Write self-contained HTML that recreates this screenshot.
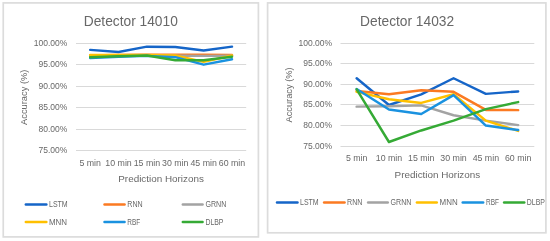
<!DOCTYPE html>
<html><head><meta charset="utf-8"><title>Detector accuracy</title>
<style>html,body{margin:0;padding:0;background:#fff}svg{display:block}</style></head>
<body>
<svg width="550" height="241" viewBox="0 0 550 241">
<rect width="550" height="241" fill="#fff"/>
<rect x="3.25" y="2.9" width="255.15" height="234.00" fill="#fff" stroke="#dcdcdc" stroke-width="1.7"/>
<text x="130.8" y="25.6" font-size="14.1" textLength="94.0" lengthAdjust="spacingAndGlyphs" text-anchor="middle" fill="#686868" font-family="Liberation Sans, Arial, sans-serif">Detector 14010</text>
<line x1="76.0" x2="246.2" y1="43.50" y2="43.50" stroke="#d9d9d9" stroke-width="1"/>
<text x="67.4" y="45.95" font-size="8.5" text-anchor="end" fill="#686868" font-family="Liberation Sans, Arial, sans-serif">100.00%</text>
<line x1="76.0" x2="246.2" y1="64.50" y2="64.50" stroke="#d9d9d9" stroke-width="1"/>
<text x="67.4" y="67.38" font-size="8.5" text-anchor="end" fill="#686868" font-family="Liberation Sans, Arial, sans-serif">95.00%</text>
<line x1="76.0" x2="246.2" y1="86.50" y2="86.50" stroke="#d9d9d9" stroke-width="1"/>
<text x="67.4" y="88.81" font-size="8.5" text-anchor="end" fill="#686868" font-family="Liberation Sans, Arial, sans-serif">90.00%</text>
<line x1="76.0" x2="246.2" y1="107.50" y2="107.50" stroke="#d9d9d9" stroke-width="1"/>
<text x="67.4" y="110.24" font-size="8.5" text-anchor="end" fill="#686868" font-family="Liberation Sans, Arial, sans-serif">85.00%</text>
<line x1="76.0" x2="246.2" y1="129.50" y2="129.50" stroke="#d9d9d9" stroke-width="1"/>
<text x="67.4" y="131.67" font-size="8.5" text-anchor="end" fill="#686868" font-family="Liberation Sans, Arial, sans-serif">80.00%</text>
<line x1="76.0" x2="246.2" y1="150.50" y2="150.50" stroke="#d9d9d9" stroke-width="1"/>
<text x="67.4" y="153.10" font-size="8.5" text-anchor="end" fill="#686868" font-family="Liberation Sans, Arial, sans-serif">75.00%</text>
<text x="90.18" y="166.0" font-size="8.8" text-anchor="middle" fill="#686868" font-family="Liberation Sans, Arial, sans-serif">5 min</text>
<text x="118.55" y="166.0" font-size="8.8" text-anchor="middle" fill="#686868" font-family="Liberation Sans, Arial, sans-serif">10 min</text>
<text x="146.92" y="166.0" font-size="8.8" text-anchor="middle" fill="#686868" font-family="Liberation Sans, Arial, sans-serif">15 min</text>
<text x="175.28" y="166.0" font-size="8.8" text-anchor="middle" fill="#686868" font-family="Liberation Sans, Arial, sans-serif">30 min</text>
<text x="203.65" y="166.0" font-size="8.8" text-anchor="middle" fill="#686868" font-family="Liberation Sans, Arial, sans-serif">45 min</text>
<text x="232.02" y="166.0" font-size="8.8" text-anchor="middle" fill="#686868" font-family="Liberation Sans, Arial, sans-serif">60 min</text>
<text x="161.10" y="182.2" font-size="9.9" text-anchor="middle" fill="#686868" font-family="Liberation Sans, Arial, sans-serif">Prediction Horizons</text>
<text transform="translate(27.0,124.88) rotate(-90)" font-size="9.8" textLength="55.2" lengthAdjust="spacingAndGlyphs" fill="#686868" font-family="Liberation Sans, Arial, sans-serif">Accuracy (%)</text>
<polyline points="90.18,49.88 118.55,52.02 146.92,46.66 175.28,47.09 203.65,50.52 232.02,46.66" fill="none" stroke="#1565c8" stroke-width="2.45" stroke-linecap="round" stroke-linejoin="round"/>
<polyline points="90.18,55.45 118.55,55.02 146.92,54.81 175.28,54.81 203.65,54.81 232.02,55.02" fill="none" stroke="#fb7a22" stroke-width="2.45" stroke-linecap="round" stroke-linejoin="round"/>
<polyline points="90.18,56.31 118.55,55.88 146.92,55.45 175.28,55.67 203.65,55.88 232.02,55.79" fill="none" stroke="#a3a3a3" stroke-width="2.45" stroke-linecap="round" stroke-linejoin="round"/>
<polyline points="90.18,55.02 118.55,55.02 146.92,55.02 175.28,55.45 203.65,61.88 232.02,55.45" fill="none" stroke="#ffc000" stroke-width="2.45" stroke-linecap="round" stroke-linejoin="round"/>
<polyline points="90.18,58.02 118.55,56.74 146.92,55.88 175.28,57.17 203.65,64.67 232.02,59.31" fill="none" stroke="#1a92e0" stroke-width="2.45" stroke-linecap="round" stroke-linejoin="round"/>
<polyline points="90.18,57.17 118.55,56.31 146.92,55.45 175.28,60.17 203.65,60.17 232.02,56.74" fill="none" stroke="#35aa35" stroke-width="2.45" stroke-linecap="round" stroke-linejoin="round"/>
<line x1="25.799999999999997" x2="46.4" y1="204.5" y2="204.5" stroke="#1565c8" stroke-width="2.45" stroke-linecap="round"/>
<text x="49.0" y="207.30" font-size="8.5" textLength="18.7" lengthAdjust="spacingAndGlyphs" fill="#686868" font-family="Liberation Sans, Arial, sans-serif">LSTM</text>
<line x1="104.5" x2="124.6" y1="204.5" y2="204.5" stroke="#fb7a22" stroke-width="2.45" stroke-linecap="round"/>
<text x="127.3" y="207.30" font-size="8.5" textLength="15.4" lengthAdjust="spacingAndGlyphs" fill="#686868" font-family="Liberation Sans, Arial, sans-serif">RNN</text>
<line x1="182.8" x2="202.6" y1="204.5" y2="204.5" stroke="#a3a3a3" stroke-width="2.45" stroke-linecap="round"/>
<text x="205.4" y="207.30" font-size="8.5" textLength="20.9" lengthAdjust="spacingAndGlyphs" fill="#686868" font-family="Liberation Sans, Arial, sans-serif">GRNN</text>
<line x1="25.799999999999997" x2="46.4" y1="222.0" y2="222.0" stroke="#ffc000" stroke-width="2.45" stroke-linecap="round"/>
<text x="49.0" y="224.80" font-size="8.5" textLength="18.1" lengthAdjust="spacingAndGlyphs" fill="#686868" font-family="Liberation Sans, Arial, sans-serif">MNN</text>
<line x1="104.5" x2="124.6" y1="222.0" y2="222.0" stroke="#1a92e0" stroke-width="2.45" stroke-linecap="round"/>
<text x="127.3" y="224.80" font-size="8.5" textLength="12.9" lengthAdjust="spacingAndGlyphs" fill="#686868" font-family="Liberation Sans, Arial, sans-serif">RBF</text>
<line x1="182.8" x2="202.6" y1="222.0" y2="222.0" stroke="#35aa35" stroke-width="2.45" stroke-linecap="round"/>
<text x="205.4" y="224.80" font-size="8.5" textLength="18.1" lengthAdjust="spacingAndGlyphs" fill="#686868" font-family="Liberation Sans, Arial, sans-serif">DLBP</text>
<rect x="267.6" y="2.9" width="278.30" height="229.90" fill="#fff" stroke="#dcdcdc" stroke-width="1.7"/>
<text x="407.1" y="25.6" font-size="14.1" textLength="94.0" lengthAdjust="spacingAndGlyphs" text-anchor="middle" fill="#686868" font-family="Liberation Sans, Arial, sans-serif">Detector 14032</text>
<line x1="340.5" x2="534.3" y1="43.50" y2="43.50" stroke="#d9d9d9" stroke-width="1"/>
<text x="332.09999999999997" y="45.80" font-size="8.5" text-anchor="end" fill="#686868" font-family="Liberation Sans, Arial, sans-serif">100.00%</text>
<line x1="340.5" x2="534.3" y1="63.50" y2="63.50" stroke="#d9d9d9" stroke-width="1"/>
<text x="332.09999999999997" y="66.36" font-size="8.5" text-anchor="end" fill="#686868" font-family="Liberation Sans, Arial, sans-serif">95.00%</text>
<line x1="340.5" x2="534.3" y1="84.50" y2="84.50" stroke="#d9d9d9" stroke-width="1"/>
<text x="332.09999999999997" y="86.92" font-size="8.5" text-anchor="end" fill="#686868" font-family="Liberation Sans, Arial, sans-serif">90.00%</text>
<line x1="340.5" x2="534.3" y1="104.50" y2="104.50" stroke="#d9d9d9" stroke-width="1"/>
<text x="332.09999999999997" y="107.48" font-size="8.5" text-anchor="end" fill="#686868" font-family="Liberation Sans, Arial, sans-serif">85.00%</text>
<line x1="340.5" x2="534.3" y1="125.50" y2="125.50" stroke="#d9d9d9" stroke-width="1"/>
<text x="332.09999999999997" y="128.04" font-size="8.5" text-anchor="end" fill="#686868" font-family="Liberation Sans, Arial, sans-serif">80.00%</text>
<line x1="340.5" x2="534.3" y1="146.50" y2="146.50" stroke="#d9d9d9" stroke-width="1"/>
<text x="332.09999999999997" y="148.60" font-size="8.5" text-anchor="end" fill="#686868" font-family="Liberation Sans, Arial, sans-serif">75.00%</text>
<text x="356.65" y="161.4" font-size="8.8" text-anchor="middle" fill="#686868" font-family="Liberation Sans, Arial, sans-serif">5 min</text>
<text x="388.95" y="161.4" font-size="8.8" text-anchor="middle" fill="#686868" font-family="Liberation Sans, Arial, sans-serif">10 min</text>
<text x="421.25" y="161.4" font-size="8.8" text-anchor="middle" fill="#686868" font-family="Liberation Sans, Arial, sans-serif">15 min</text>
<text x="453.55" y="161.4" font-size="8.8" text-anchor="middle" fill="#686868" font-family="Liberation Sans, Arial, sans-serif">30 min</text>
<text x="485.85" y="161.4" font-size="8.8" text-anchor="middle" fill="#686868" font-family="Liberation Sans, Arial, sans-serif">45 min</text>
<text x="518.15" y="161.4" font-size="8.8" text-anchor="middle" fill="#686868" font-family="Liberation Sans, Arial, sans-serif">60 min</text>
<text x="437.40" y="178.0" font-size="9.9" text-anchor="middle" fill="#686868" font-family="Liberation Sans, Arial, sans-serif">Prediction Horizons</text>
<text transform="translate(291.7,122.55) rotate(-90)" font-size="9.8" textLength="55.2" lengthAdjust="spacingAndGlyphs" fill="#686868" font-family="Liberation Sans, Arial, sans-serif">Accuracy (%)</text>
<polyline points="356.65,78.25 388.95,104.98 421.25,94.29 453.55,78.25 485.85,93.88 518.15,91.41" fill="none" stroke="#1565c8" stroke-width="2.45" stroke-linecap="round" stroke-linejoin="round"/>
<polyline points="356.65,91.00 388.95,94.29 421.25,90.18 453.55,91.82 485.85,109.91 518.15,110.12" fill="none" stroke="#fb7a22" stroke-width="2.45" stroke-linecap="round" stroke-linejoin="round"/>
<polyline points="356.65,106.62 388.95,106.21 421.25,105.39 453.55,115.26 485.85,120.61 518.15,125.13" fill="none" stroke="#a3a3a3" stroke-width="2.45" stroke-linecap="round" stroke-linejoin="round"/>
<polyline points="356.65,91.82 388.95,99.22 421.25,102.92 453.55,94.29 485.85,120.61 518.15,130.89" fill="none" stroke="#ffc000" stroke-width="2.45" stroke-linecap="round" stroke-linejoin="round"/>
<polyline points="356.65,88.94 388.95,109.50 421.25,114.03 453.55,95.11 485.85,125.54 518.15,130.06" fill="none" stroke="#1a92e0" stroke-width="2.45" stroke-linecap="round" stroke-linejoin="round"/>
<polyline points="356.65,89.35 388.95,141.99 421.25,130.47 453.55,120.61 485.85,109.09 518.15,102.10" fill="none" stroke="#35aa35" stroke-width="2.45" stroke-linecap="round" stroke-linejoin="round"/>
<line x1="277.0" x2="297.5" y1="202.5" y2="202.5" stroke="#1565c8" stroke-width="2.45" stroke-linecap="round"/>
<text x="300.0" y="205.30" font-size="8.5" textLength="18.7" lengthAdjust="spacingAndGlyphs" fill="#686868" font-family="Liberation Sans, Arial, sans-serif">LSTM</text>
<line x1="324.09999999999997" x2="344.6" y1="202.5" y2="202.5" stroke="#fb7a22" stroke-width="2.45" stroke-linecap="round"/>
<text x="347.1" y="205.30" font-size="8.5" textLength="15.4" lengthAdjust="spacingAndGlyphs" fill="#686868" font-family="Liberation Sans, Arial, sans-serif">RNN</text>
<line x1="368.09999999999997" x2="387.8" y1="202.5" y2="202.5" stroke="#a3a3a3" stroke-width="2.45" stroke-linecap="round"/>
<text x="390.5" y="205.30" font-size="8.5" textLength="20.9" lengthAdjust="spacingAndGlyphs" fill="#686868" font-family="Liberation Sans, Arial, sans-serif">GRNN</text>
<line x1="416.9" x2="436.8" y1="202.5" y2="202.5" stroke="#ffc000" stroke-width="2.45" stroke-linecap="round"/>
<text x="439.6" y="205.30" font-size="8.5" textLength="18.1" lengthAdjust="spacingAndGlyphs" fill="#686868" font-family="Liberation Sans, Arial, sans-serif">MNN</text>
<line x1="462.7" x2="483.2" y1="202.5" y2="202.5" stroke="#1a92e0" stroke-width="2.45" stroke-linecap="round"/>
<text x="486.0" y="205.30" font-size="8.5" textLength="12.9" lengthAdjust="spacingAndGlyphs" fill="#686868" font-family="Liberation Sans, Arial, sans-serif">RBF</text>
<line x1="504.09999999999997" x2="524.3" y1="202.5" y2="202.5" stroke="#35aa35" stroke-width="2.45" stroke-linecap="round"/>
<text x="526.8" y="205.30" font-size="8.5" textLength="18.1" lengthAdjust="spacingAndGlyphs" fill="#686868" font-family="Liberation Sans, Arial, sans-serif">DLBP</text>
</svg>
</body></html>
